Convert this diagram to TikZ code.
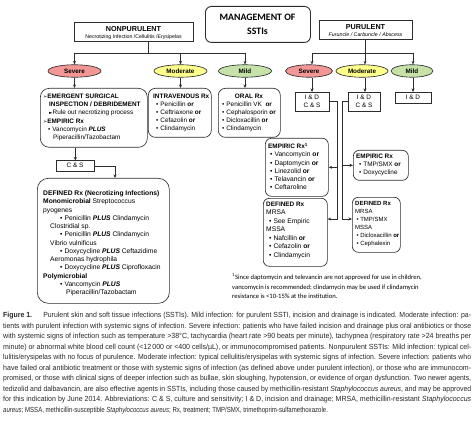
\documentclass[tikz,border=0pt]{standalone}
\usepackage{fontspec}
\setmainfont{Liberation Sans}
\newfontfamily\carl{Carlito}
\newfontfamily\djv{DejaVu Sans}
\usepackage{graphicx}
\usetikzlibrary{arrows.meta,shapes.geometric}
\definecolor{sevcol}{RGB}{242,150,150}
\definecolor{modcol}{RGB}{255,255,140}
\definecolor{mildcol}{RGB}{198,226,168}
\definecolor{lncol}{RGB}{45,45,45}
\newcommand\txl[4][]{\node[tx,#1] (#2) at (#3) {#4};}
\newcommand\bo{\textbf{or}}
\newcommand\pl{\textbf{\textit{PLUS}}}
\newcommand\capl[3]{\node[capt] (#1) at (3,#2) {\resizebox{468pt}{\height}{#3}};}
\begin{document}
\begin{tikzpicture}[x=1pt,y=-1pt,
  tx/.style={anchor=west, inner sep=0pt, font=\fontsize{6.4}{7}\selectfont, text height=4.6pt, text depth=1.3pt},
  big/.style={font=\fontsize{6.7}{7}\selectfont},
  small/.style={font=\fontsize{6}{7}\selectfont},
  capt/.style={anchor=west, inner sep=0pt, font=\fontsize{7.4}{8}\selectfont, text=black!85, text height=5.3pt, text depth=1.5pt},
  foot/.style={anchor=west, inner sep=0pt, font=\carl\fontsize{6.6}{8}\selectfont, text height=4.6pt, text depth=1.4pt},
  sbox/.style={draw=lncol, line width=0.65pt, inner sep=0pt, anchor=north west},
  rbox/.style={sbox, rounded corners=7pt},
  ell/.style={ellipse, draw=lncol, line width=0.65pt, inner sep=0pt, minimum height=12.5pt, font=\bfseries\fontsize{6.3}{7}\selectfont},
  ln/.style={draw=lncol, line width=0.65pt},
  arr/.style={ln, -{Stealth[length=3.5pt,width=3pt]}}
]
\useasboundingbox (0,0) rectangle (474,425);

% ---------- title ----------
\node[sbox, rounded corners=6pt, line width=0.9pt, minimum width=105pt, minimum height=36pt] (title) at (205,6) {};
\node[font=\carl\bfseries\fontsize{9.8}{11}\selectfont, inner sep=0pt] (title1) at (257.5,17) {MANAGEMENT OF};
\node[font=\carl\bfseries\fontsize{9.8}{11}\selectfont, inner sep=0pt] (title2) at (257.5,31) {SSTIs};

% ---------- NONPURULENT ----------
\node[sbox, minimum width=119pt, minimum height=19pt] (np) at (74,22) {};
\node[font=\bfseries\fontsize{7.2}{8}\selectfont, inner sep=0pt] (npt) at (133.5,29) {NONPURULENT};
\node[font=\fontsize{5.2}{6}\selectfont, inner sep=0pt] (nps) at (133.5,37) {Necrotizing Infection /Cellulitis /Erysipelas};

\node[ell, fill=sevcol, minimum width=53pt] (npsev) at (74.5,71) {Severe};
\node[ell, fill=modcol, minimum width=53pt] (npmod) at (180.5,71) {Moderate};
\node[ell, fill=mildcol, minimum width=53pt] (npmild) at (245,71) {Mild};

\coordinate (npj) at (148,53);
\draw[ln] (np.south -| npj) -- (npj);
\draw[ln] (npsev.north |- npj) -- (npmild.north |- npj);
\draw[arr] (npsev.north |- npj) -- (npsev.north);
\draw[arr] (npmod.north |- npj) -- (npmod.north);
\draw[arr] (npmild.north |- npj) -- (npmild.north);

% severe nonpurulent box
\node[rbox, rounded corners=9pt, minimum width=107pt, minimum height=59pt] (sevbox) at (40,88) {};
\txl{s1}{43,97}{{\djv\fontsize{5}{6}\selectfont ➢}\textbf{EMERGENT SURGICAL}}
\txl{s2}{49,105}{\textbf{INSPECTION / DEBRIDEMENT}}
\txl{s3}{49,112.5}{{\djv\fontsize{4.5}{6}\selectfont ►}Rule out necrotizing process}
\txl{s4}{43,122}{{\djv\fontsize{5}{6}\selectfont ➢}\textbf{EMPIRIC Rx}}
\txl{s5}{48,129.5}{•\hspace{2pt}Vancomycin \pl}
\txl{s6}{53,137.5}{Piperacillin/Tazobactam}

\node[sbox, minimum width=38pt, minimum height=11pt] (cs) at (56,160.5) {};
\txl[anchor=center]{cst}{75,166}{C \& S}

\node[rbox, rounded corners=11pt, minimum width=132pt, minimum height=125pt] (defn) at (37,178) {};
\coordinate (defin) at (115,178);
\draw[arr] (npsev.south) -- (npsev.south |- sevbox.north);
\draw[arr] (sevbox.south -| cs.north) -- (cs.north);
\draw[arr] (cs.east) -| (defin);

\txl[big]{d1}{43,194}{\textbf{DEFINED Rx (Necrotizing Infections)}}
\txl[big]{d2}{43,202.25}{\textbf{Monomicrobial} Streptococcus}
\txl[big]{d3}{43,210.5}{pyogenes}
\txl[big]{d4}{60,218.75}{•\hspace{2pt}Penicillin \pl\ Clindamycin}
\txl[big]{d5}{50,227}{Clostridial sp.}
\txl[big]{d6}{60,235.25}{•\hspace{2pt}Penicillin \pl\ Clindamycin}
\txl[big]{d7}{50,243.5}{Vibrio vulnificus}
\txl[big]{d8}{60,251.75}{•\hspace{2pt}Doxycycline \pl\ Ceftazidime}
\txl[big]{d9}{50,260}{Aeromonas hydrophila}
\txl[big]{d10}{60,268.25}{•\hspace{2pt}Doxycycline \pl\ Ciprofloxacin}
\txl[big]{d11}{43,276.5}{\textbf{Polymicrobial}}
\txl[big]{d12}{60,284.75}{•\hspace{2pt}Vancomycin \pl}
\txl[big]{d13}{66,293}{Piperacillin/Tazobactam}

% moderate nonpurulent
\node[rbox, minimum width=63pt, minimum height=49pt] (ivbox) at (148,88) {};
\draw[arr] (npmod.south) -- (npmod.south |- ivbox.north);
\txl{i1}{153,97}{\textbf{INTRAVENOUS Rx}}
\txl{i2}{156,105}{•\hspace{2pt}Penicillin \bo}
\txl{i3}{156,113}{•\hspace{2pt}Ceftriaxone \bo}
\txl{i4}{156,121}{•\hspace{2pt}Cefazolin \bo}
\txl{i5}{156,129}{•\hspace{2pt}Clindamycin}

% mild nonpurulent
\node[rbox, minimum width=62pt, minimum height=49pt] (orbox) at (218,88) {};
\draw[arr] (npmild.south) -- (npmild.south |- orbox.north);
\txl[anchor=center]{o1}{249,97}{\textbf{ORAL Rx}}
\txl{o2}{222,105}{•\hspace{2pt}Penicillin VK \ \bo}
\txl{o3}{222,113}{•\hspace{2pt}Cephalosporin \bo}
\txl{o4}{222,121}{•\hspace{2pt}Dicloxacillin \bo}
\txl{o5}{222,129}{•\hspace{2pt}Clindamycin}

% ---------- PURULENT ----------
\node[sbox, minimum width=93pt, minimum height=19pt] (pu) at (319,20) {};
\node[font=\bfseries\fontsize{7.2}{8}\selectfont, inner sep=0pt] (put) at (365.5,27) {PURULENT};
\node[font=\itshape\fontsize{5.3}{6}\selectfont, inner sep=0pt] (pus) at (365.5,35) {Furuncle / Carbuncle / Abscess};

\node[ell, fill=sevcol, minimum width=47pt] (pusev) at (309,71) {Severe};
\node[ell, fill=modcol, minimum width=52pt] (pumod) at (362,71) {Moderate};
\node[ell, fill=mildcol, minimum width=42pt] (pumild) at (412,71) {Mild};

\coordinate (puj) at (365,53);
\coordinate (pa) at (312,53);
\coordinate (pb) at (413,53);
\draw[ln] (pu.south -| puj) -- (puj);
\draw[ln] (pa) -- (pb);
\draw[arr] (pa) -- (pa |- pusev.north);
\draw[arr] (puj) -- (puj |- pumod.north);
\draw[arr] (pb) -- (pb |- pumild.north);

\node[sbox, minimum width=34pt, minimum height=19pt] (c1) at (295,92) {};
\node[sbox, minimum width=32pt, minimum height=19pt] (c2) at (348,92) {};
\node[sbox, minimum width=36pt, minimum height=11pt] (c3) at (395,92) {};
\draw[arr] (pa |- pusev.south) -- (pa |- c1.north);
\draw[arr] (puj |- pumod.south) -- (puj |- c2.north);
\draw[arr] (pb |- pumild.south) -- (pb |- c3.north);
\txl[anchor=center]{c1a}{312,97.5}{I \& D}
\txl[anchor=center]{c1b}{312,105.5}{C \& S}
\txl[anchor=center]{c2a}{364,97.5}{I \& D}
\txl[anchor=center]{c2b}{364,105.5}{C \& S}
\txl[anchor=center]{c3a}{413,97.5}{I \& D}

% empiric boxes
\node[rbox, rounded corners=6pt, minimum width=63pt, minimum height=58pt] (emp1) at (265,138) {};
\txl{e1}{268,147}{\textbf{EMPIRIC Rx\textsuperscript{1}}}
\txl[big]{e2}{270,155.2}{•\hspace{2pt}Vancomycin \bo}
\txl[big]{e3}{270,163.4}{•\hspace{2pt}Daptomycin \bo}
\txl[big]{e4}{270,171.6}{•\hspace{2pt}Linezolid \bo}
\txl[big]{e5}{270,179.8}{•\hspace{2pt}Telavancin \bo}
\txl[big]{e6}{270,188}{•\hspace{2pt}Ceftaroline}

\node[rbox, rounded corners=6pt, minimum width=55pt, minimum height=30pt] (emp2) at (353,150) {};
\txl{f1}{356,157}{\textbf{EMPIRIC Rx}}
\txl{f2}{359,165}{•\hspace{2pt}TMP/SMX \bo}
\txl{f3}{359,173}{•\hspace{2pt}Doxycycline}

% defined boxes
\node[rbox, rounded corners=6pt, minimum width=64pt, minimum height=68pt] (def1) at (263,198) {};
\txl{g1}{266,204.5}{\textbf{DEFINED Rx}}
\txl[big]{g2}{266,213}{MRSA}
\txl[big]{g3}{269,221.5}{•\hspace{2pt}See Empiric}
\txl[big]{g4}{266,230}{MSSA}
\txl[big]{g5}{269,238.5}{•\hspace{2pt}Nafcillin \bo}
\txl[big]{g6}{269,247}{•\hspace{2pt}Cefazolin \bo}
\txl[big]{g7}{269,255.5}{•\hspace{2pt}Clindamycin}

\node[rbox, rounded corners=6pt, minimum width=48pt, minimum height=55pt] (def2) at (352,197) {};
\txl[small]{h1}{355,203.5}{\textbf{DEFINED Rx}}
\txl[small]{h2}{355,211.5}{MRSA}
\txl[small]{h3}{356.5,219.5}{•\hspace{1.5pt}TMP/SMX}
\txl[small]{h4}{355,228}{MSSA}
\txl[small]{h5}{356.5,236}{•\hspace{1.5pt}Dicloxacillin \bo}
\txl[small]{h6}{356.5,244}{•\hspace{1.5pt}Cephalexin}

% purulent connectors
\coordinate (lx) at (337,219);
\coordinate (rx) at (342,219);
\draw[arr] (c1.east) -| (lx) -- (lx -| def1.east);
\draw[arr] (c2.west) -| (rx) -- (rx -| def2.west);
\draw[arr] (lx |- emp1.east) -- (emp1.east);
\draw[arr] (rx |- emp2.west) -- (emp2.west);

% footnote
\node[foot] (fn1) at (232,278) {\textsuperscript{1}Since daptomycin and televancin are not approved for use in children,};
\node[foot] (fn2) at (232,287.5) {vancomycin is recommended; clindamycin may be used if clindamycin};
\node[foot] (fn3) at (232,297) {resistance is <10-15\% at the institution.};

% caption
\capl{cap1}{316}{\textbf{Figure 1.}\hspace{1.6em}Purulent skin and soft tissue infections (SSTIs). Mild infection: for purulent SSTI, incision and drainage is indicated. Moderate infection: pa-}
\capl{cap2}{326.5}{tients with purulent infection with systemic signs of infection. Severe infection: patients who have failed incision and drainage plus oral antibiotics or those}
\capl{cap3}{337}{with systemic signs of infection such as temperature >38°C, tachycardia (heart rate >90 beats per minute), tachypnea (respiratory rate >24 breaths per}
\capl{cap4}{347.5}{minute) or abnormal white blood cell count (<12\,000 or <400 cells/µL), or immunocompromised patients. Nonpurulent SSTIs: Mild infection: typical cel-}
\capl{cap5}{358}{lulitis/erysipelas with no focus of purulence. Moderate infection: typical cellulitis/erysipelas with systemic signs of infection. Severe infection: patients who}
\capl{cap6}{368.5}{have failed oral antibiotic treatment or those with systemic signs of infection (as defined above under purulent infection), or those who are immunocom-}
\capl{cap7}{379}{promised, or those with clinical signs of deeper infection such as bullae, skin sloughing, hypotension, or evidence of organ dysfunction. Two newer agents,}
\capl{cap8}{389.5}{tedizolid and dalbavancin, are also effective agents in SSTIs, including those caused by methicillin-resistant \textit{Staphylococcus aureus}, and may be approved}
\capl{cap9}{400}{for this indication by June 2014. Abbreviations: C \& S, culture and sensitivity; I \& D, incision and drainage; MRSA, methicillin-resistant \textit{Staphylococcus}}
\node[capt] (cap10) at (3,410.5) {\scalebox{0.82}[1]{\textit{aureus}; MSSA, methicillin-susceptible \textit{Staphylococcus aureus}; Rx, treatment; TMP/SMX, trimethoprim-sulfamethoxazole.}};
\end{tikzpicture}
\end{document}
